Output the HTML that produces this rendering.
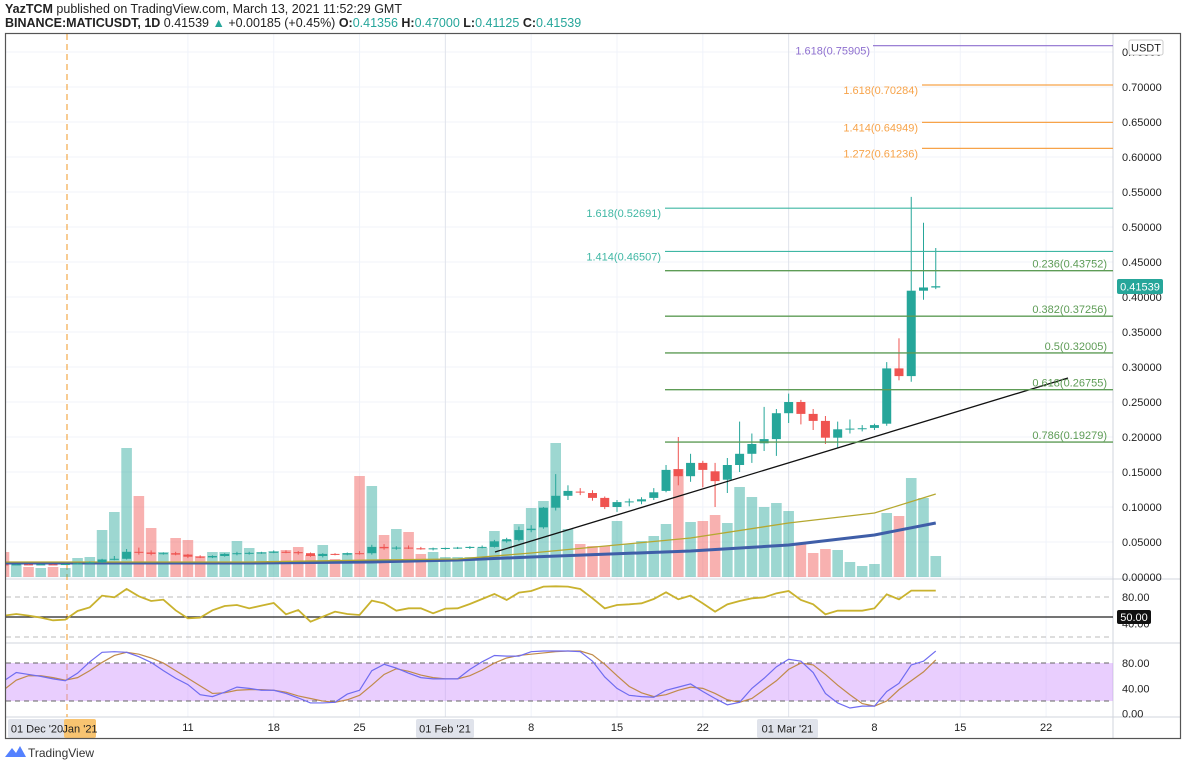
<!DOCTYPE html>
<html><head><meta charset="utf-8">
<style>
html,body{margin:0;padding:0;background:#fff;}
svg{display:block;font-family:"Liberation Sans",sans-serif;}
</style></head>
<body>
<svg id="chart" width="1186" height="768" viewBox="0 0 1186 768" xmlns="http://www.w3.org/2000/svg">
<text x="5" y="13" font-size="12.5" fill="#222"><tspan font-weight="bold">YazTCM</tspan> published on TradingView.com, March 13, 2021 11:52:29 GMT</text>
<text x="5" y="27" font-size="12.5" fill="#222"><tspan font-weight="bold">BINANCE:MATICUSDT, 1D</tspan> 0.41539 <tspan fill="#26a69a">▲</tspan> +0.00185 (+0.45%) <tspan font-weight="bold">O:</tspan><tspan fill="#26a69a">0.41356</tspan> <tspan font-weight="bold">H:</tspan><tspan fill="#26a69a">0.47000</tspan> <tspan font-weight="bold">L:</tspan><tspan fill="#26a69a">0.41125</tspan> <tspan font-weight="bold">C:</tspan><tspan fill="#26a69a">0.41539</tspan></text>
<defs><clipPath id="mainClip"><rect x="6" y="34" width="1107" height="544"/></clipPath>
<clipPath id="subClip"><rect x="6" y="579" width="1107" height="138"/></clipPath></defs>
<g id="grid"></g>
<g id="vol" clip-path="url(#mainClip)"></g>
<g id="ma" clip-path="url(#mainClip)"></g>
<g id="candles" clip-path="url(#mainClip)"></g>
<g id="fibs"></g>
<g id="ind" clip-path="url(#subClip)"></g>
<g id="axes"></g>
<rect x="5.5" y="33.5" width="1175" height="705" fill="none" stroke="#555" stroke-width="1.2"/>
<g>
<path d="M5 757 L12 748 L16 753 L20 746 L26 757 Z" fill="#2962ff" opacity="0.8"/>
<text x="28" y="757" font-size="12" fill="#333">TradingView</text>
</g>
</svg>
<script>
const NS="http://www.w3.org/2000/svg";
// ---- data ----
const opens=[.018,.0175,.018,.0178,.018,.0178,.0185,.0195,.021,.025,.026,.036,.035,.033,.034,.032,.029,.028,.030,.033,.034,.0345,.035,.036,.0355,.034,.030,.033,.032,.034,.034,.043,.041,.042,.041,.0395,.040,.041,.0415,.042,.043,.051,.053,.067,.071,.099,.116,.122,.12,.113,.100,.107,.108,.113,.123,.154,.144,.163,.151,.139,.16,.176,.191,.197,.234,.25,.233,.223,.199,.211,.212,.213,.219,.298,.287,.409,.41356];
const highs=[.019,.0185,.0185,.0185,.0185,.019,.02,.022,.026,.03,.04,.042,.038,.035,.036,.033,.031,.031,.034,.036,.036,.036,.038,.038,.037,.035,.034,.034,.035,.037,.046,.047,.044,.045,.043,.042,.042,.043,.044,.045,.053,.056,.072,.074,.1,.147,.131,.127,.124,.115,.11,.112,.114,.127,.160,.20,.176,.166,.163,.17,.222,.205,.243,.24,.262,.253,.24,.23,.222,.225,.217,.219,.307,.341,.543,.506,.47];
const lows=[.017,.017,.0172,.0172,.0175,.0175,.018,.019,.02,.024,.025,.032,.031,.032,.031,.027,.027,.027,.029,.031,.032,.033,.034,.034,.032,.029,.028,.031,.031,.032,.032,.039,.039,.040,.039,.038,.039,.040,.040,.041,.042,.049,.051,.064,.069,.095,.11,.117,.109,.097,.093,.101,.104,.11,.121,.131,.136,.128,.10,.12,.15,.163,.18,.173,.22,.218,.21,.19,.185,.205,.208,.21,.216,.281,.279,.396,.41125];
const closes=[.0175,.018,.0178,.018,.0178,.0185,.0195,.021,.025,.026,.036,.035,.033,.034,.032,.029,.028,.030,.033,.034,.0345,.035,.036,.0355,.034,.030,.033,.032,.034,.033,.043,.041,.042,.041,.0395,.041,.0415,.042,.043,.043,.051,.054,.067,.069,.099,.116,.123,.121,.113,.100,.107,.108,.111,.121,.153,.144,.163,.153,.137,.16,.176,.19,.197,.234,.25,.233,.223,.199,.211,.212,.2125,.217,.298,.287,.409,.4136,.41539];
const volumes=[25,15,10,9,10,9,19,20,47,65,129,81,49,25,39,37,21,25,25,36,29,25,26,27,30,22,32,18,24,101,91,42,48,45,23,25,20,20,20,29,46,37,53,69,76,134,48,33,31,31,56,33,36,41,53,108,55,56,62,54,90,80,70,74,66,34,24,28,27,15,11,13,64,61,99,79,21];
const maIdx=[0,20,30,37,43,56,64,71,76];
const maFast=[15,15,17,18,24,39,54,64,83];
const maSlow=[14,14,15,17,20,26,32,42,54];
const rsi=[52,54.5,52,49,45,46,59,64.5,82,79.5,92,81,74,76,60,48,49,60,66.5,68,63,67,71,54,60.5,43,50.5,58,54.5,53,74.5,70.5,59.5,63,63,55.5,62.5,63,69.5,77,84.5,75.5,86.5,89,95.5,96,95.5,92,78,63,68,69,70.5,77,87,76.5,82,70.5,58,69,74,78,79.5,85.5,89,75.5,69,54,59.5,59.5,59.5,63,84,76.5,89.5,89.5,89.5];
const stochK=[52,65,62,59,55,52,64,82,97,98,97,90,81,68,56,46,30,27,34,42,40,37,37,32,25,17,17,18,31,37,68,78,72,64,57,55,55,55,70,82,92,91,91,98,99,99,99,98,83,58,40,29,27,26,37,42,47,35,24,14,18,40,56,74,86,83,65,32,17,9,12,12,35,48,77,83,99];
const stochD=[38,53,60,60,57,53,57,68,81,92,97,94,88,80,68,56,44,32,33,37,38,38,37,34,28,24,20,18,22,29,45,62,71,67,61,57,55,55,60,69,80,88,92,94,96,98,99,99,93,78,60,43,33,27,30,37,42,40,32,22,18,24,38,52,70,80,77,62,45,30,16,12,20,38,52,66,85];
const priceTicks=[0,0.05,0.1,0.15,0.2,0.25,0.3,0.35,0.4,0.45,0.5,0.55,0.6,0.65,0.7,0.75];
const dateLabels=["11","18","25","8","15","22","8","15","22"];
const dateLabelIdx=[15,22,29,43,50,57,71,78,85];
const fibLabels=["1.618(0.75905)","1.618(0.70284)","1.414(0.64949)","1.272(0.61236)","1.618(0.52691)","1.414(0.46507)","0.236(0.43752)","0.382(0.37256)","0.5(0.32005)","0.618(0.26755)","0.786(0.19279)"];
const fibValues=[0.75905,0.70284,0.64949,0.61236,0.52691,0.46507,0.43752,0.37256,0.32005,0.26755,0.19279];
// ---- scales ----
const xS=i=>4+12.26*i;
const yP=p=>577-700*p;
const yV=v=>577-v;
const yR=v=>617-(v-50)*0.667;
const yK=v=>713.7-0.633*v;
function mk(tag,attrs,parent){const e=document.createElementNS(NS,tag);for(const k in attrs)e.setAttribute(k,attrs[k]);parent.appendChild(e);return e;}
const G=id=>document.getElementById(id);
const grid=G('grid');
priceTicks.forEach(p=>{const l=mk('line',{x1:6,x2:1113,y1:yP(p),y2:yP(p),stroke:'#f0f3fa','stroke-width':1},grid);

});
[15,22,29,36,43,50,57,64,71,78,85].forEach(i=>{const mo=(i===36||i===64);const l=mk('line',{x1:xS(i),x2:xS(i),y1:34,y2:717,stroke:mo?'#e0e3eb':'#f0f3fa','stroke-width':1},grid);

});
[579,643,717].forEach(y=>{const l=mk('line',{x1:6,x2:1180,y1:y,y2:y,stroke:'#d1d4dc','stroke-width':1},grid);

});
const ax=mk('line',{x1:1113,x2:1113,y1:34,y2:738,stroke:'#d1d4dc'},grid);


const jl=mk('line',{x1:67,x2:67,y1:34,y2:717,stroke:'#f2a94a','stroke-width':1.2,'stroke-dasharray':'6,4'},grid);


const vol=G('vol');
volumes.forEach((v,i)=>{const up=closes[i]>=opens[i];
const r=mk('rect',{x:xS(i)-5.3,y:yV(v),width:10.6,height:v,fill:up?'rgba(38,166,154,0.45)':'rgba(239,83,80,0.45)'},vol);

});
const ma=G('ma');
const pf=maIdx.map((d,k)=>xS(d)+','+yV(maFast[k])).join(' ');
const ps=maIdx.map((d,k)=>xS(d)+','+yV(maSlow[k])).join(' ');
const m1=mk('polyline',{points:ps,fill:'none',stroke:'#3f5ea8','stroke-width':3},ma);


const m2=mk('polyline',{points:pf,fill:'none',stroke:'#b5a830','stroke-width':1.3},ma);


const cg=G('candles');
opens.forEach((o,i)=>{const c=closes[i];const up=c>=o;const col=up?'#26a69a':'#ef5350';const x=xS(i);
const w=mk('line',{x1:x,x2:x,y1:yP(highs[i]),y2:yP(lows[i]),stroke:col,'stroke-width':1},cg);


const t=Math.min(yP(o),yP(c));const h=Math.max(1,Math.abs(yP(o)-yP(c)));
const b=mk('rect',{x:x-4.5,y:t,width:9,height:h,fill:col},cg);

});
const tl=mk('line',{x1:495,y1:552,x2:1068,y2:378,stroke:'#111','stroke-width':1.3},G('fibs'));


const fg=G('fibs');
fibValues.forEach((v,k)=>{let col,x1,lx,anchor,ly;const y=yP(v);
if(k===0){col='#8e6fcf';x1=873;lx=870;anchor='end';ly=y+9;}
else if(k<4){col='#f7a349';x1=922;lx=918;anchor='end';ly=y+9;}
else if(k<6){col='#3fb7a4';x1=665;lx=661;anchor='end';ly=y+9;}
else{col='#5e9c56';x1=665;lx=1107;anchor='end';ly=y-3;}
const l=mk('line',{x1:x1,x2:1113,y1:y,y2:y,stroke:col,'stroke-width':k>=6?1.4:1.2},fg);


const t=mk('text',{x:lx,y:ly,'font-size':11,fill:col,'text-anchor':anchor},fg);
t.textContent=fibLabels[k];

});
const ind=G('ind');
[[yR(80),'#bbb'],[yR(20),'#bbb']].forEach(a=>{const l=mk('line',{x1:6,x2:1113,y1:a[0],y2:a[0],stroke:a[1],'stroke-dasharray':'5,4'},ind);

});
const rl=mk('line',{x1:6,x2:1113,y1:yR(50),y2:yR(50),stroke:'#222','stroke-width':1.2},ind);


const rp=mk('polyline',{points:rsi.map((v,i)=>xS(i)+','+yR(v)).join(' '),fill:'none',stroke:'#c9b22e','stroke-width':1.8},ind);


const sb=mk('rect',{x:6,y:yK(80),width:1107,height:yK(20)-yK(80),fill:'rgba(206,147,252,0.45)'},ind);


[80,20].forEach(v=>{const l=mk('line',{x1:6,x2:1113,y1:yK(v),y2:yK(v),stroke:'#666','stroke-dasharray':'5,4'},ind);

});
const sd=mk('polyline',{points:stochD.map((v,i)=>xS(i)+','+yK(v)).join(' '),fill:'none',stroke:'#c08a4a','stroke-width':1.2},ind);


const sk=mk('polyline',{points:stochK.map((v,i)=>xS(i)+','+yK(v)).join(' '),fill:'none',stroke:'#6f6cf0','stroke-width':1.2},ind);


const axg=G('axes');
priceTicks.forEach(p=>{const t=mk('text',{x:1122,y:yP(p)+4,'font-size':11,fill:'#222'},axg);
t.textContent=p.toFixed(5);

});
function box(x,y,w,h,fill,txt,tcol,name,fs){const g=mk('g',{},axg);


mk('rect',{x:x,y:y,width:w,height:h,fill:fill,rx:2},g);const t=mk('text',{x:x+w/2,y:y+h/2+4,'font-size':fs||11,fill:tcol,'text-anchor':'middle'},g);t.textContent=txt;return g;}
box(1129,40,34,15,'#fff','USDT','#222','currency-label');
axg.lastChild.querySelector('rect').setAttribute('stroke','#ccc');
box(1117,279,46,15,'#26a69a','0.41539','#fff','last-price-label');
[[80,'80.00'],[40,'40.00']].forEach(a=>{const t=mk('text',{x:1122,y:yR(a[0])+4,'font-size':11,fill:'#222'},axg);t.textContent=a[1];

});
box(1117,610,34,14,'#111','50.00','#fff','rsi-mid-label');
[[80,'80.00'],[40,'40.00'],[0,'0.00']].forEach(a=>{const t=mk('text',{x:1122,y:yK(a[0])+4,'font-size':11,fill:'#222'},axg);t.textContent=a[1];

});
dateLabels.forEach((s,k)=>{const t=mk('text',{x:xS(dateLabelIdx[k]),y:731,'font-size':11,fill:'#222','text-anchor':'middle'},axg);t.textContent=s;

});
box(8,719,58,19,'#e0e3eb','01 Dec \'20','#222','date-label-dec');
box(64,719,32,19,'#f8c471','Jan \'21','#222','date-label-jan');
box(416,719,58,19,'#e0e3eb','01 Feb \'21','#222','date-label-feb');
box(757,719,61,19,'#e0e3eb','01 Mar \'21','#222','date-label-mar');
</script>
</body></html>
